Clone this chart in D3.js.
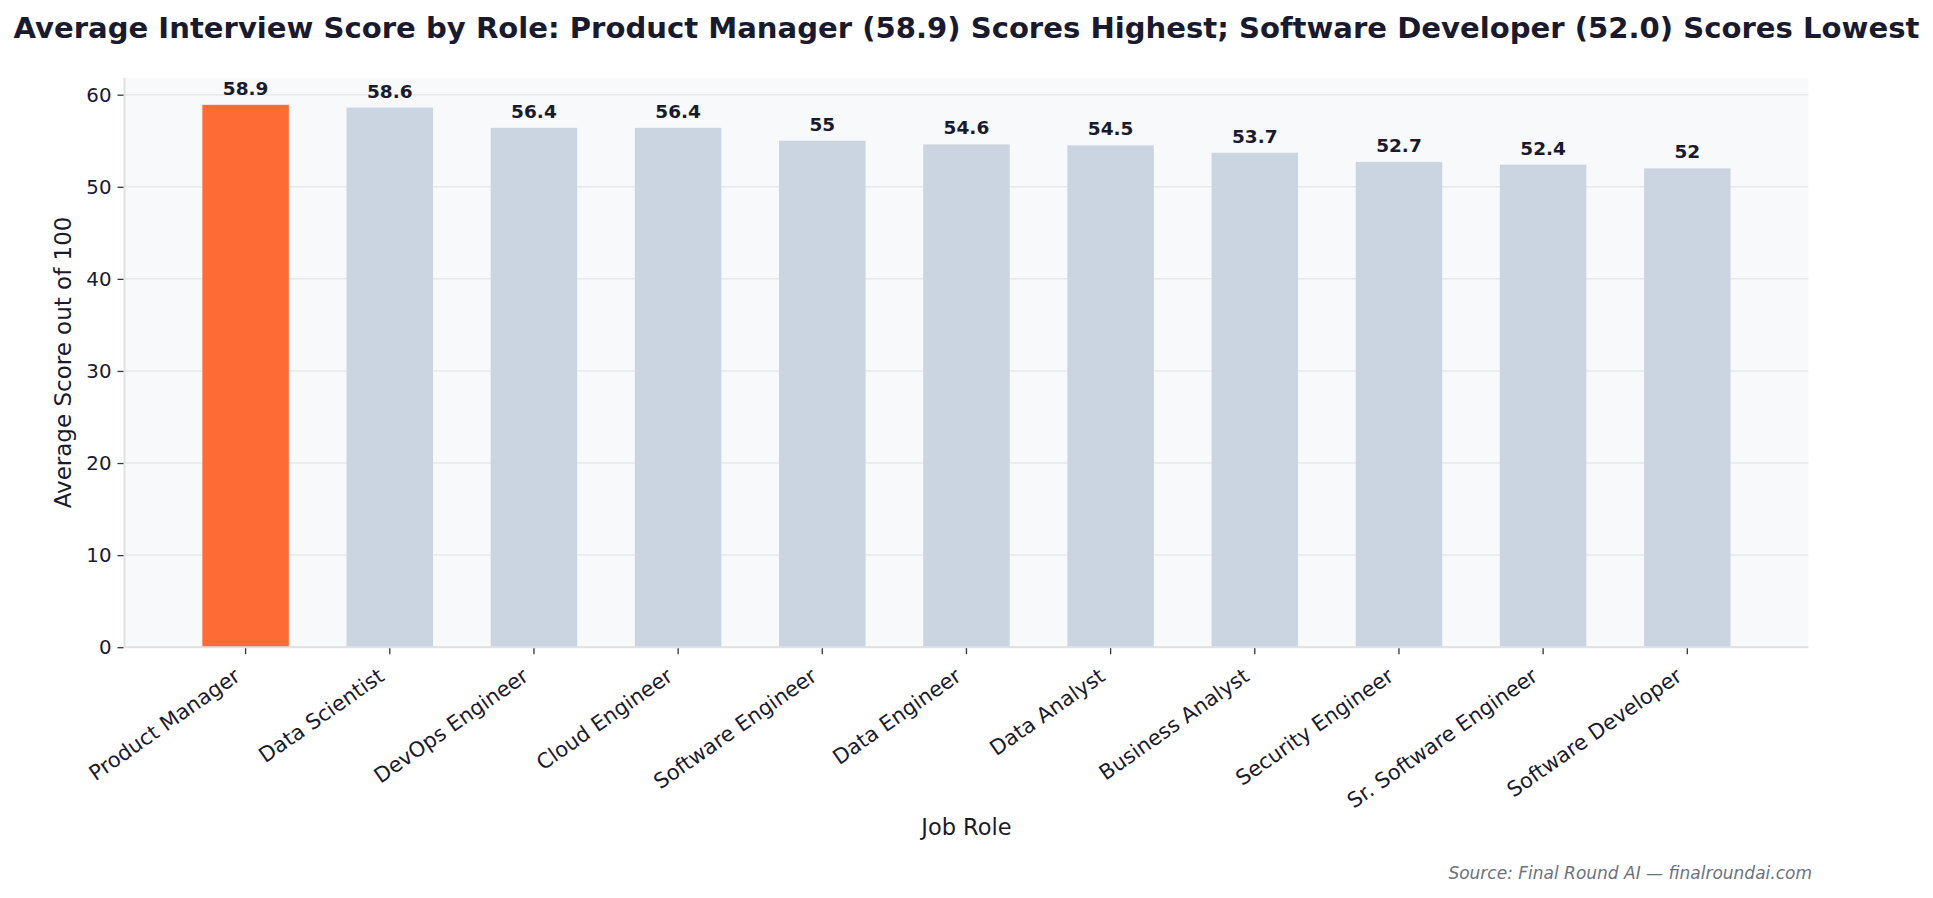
<!DOCTYPE html>
<html>
<head>
<meta charset="utf-8">
<script src="https://cdn.jsdelivr.net/npm/d3@7"></script>
<style>
  html, body { margin: 0; padding: 0; background: #ffffff; }
  svg { display: block; font-family: "DejaVu Sans", sans-serif; }
</style>
</head>
<body>
<svg id="chart" width="1933" height="898"></svg>
<script>
const roles = ["Product Manager", "Data Scientist", "DevOps Engineer", "Cloud Engineer", "Software Engineer", "Data Engineer", "Data Analyst", "Business Analyst", "Security Engineer", "Sr. Software Engineer", "Software Developer"];
const scores = [58.9, 58.6, 56.4, 56.4, 55, 54.6, 54.5, 53.7, 52.7, 52.4, 52];
const yTicks = [0, 10, 20, 30, 40, 50, 60];
const highlightRole = "Product Manager";
const titleText = "Average Interview Score by Role: Product Manager (58.9) Scores Highest; Software Developer (52.0) Scores Lowest";
const yLabelText = "Average Score out of 100";
const xLabelText = "Job Role";
const sourceText = "Source: Final Round AI \u2014 finalroundai.com";

const W = 1933, H = 898;
const m = { left: 124.5, right: 1808.4, top: 77.7, bottom: 647.2 };
const ink = "#1a1a2e";

const svg = d3.select("#chart");

const x = d3.scaleBand().domain(roles).range([m.left, m.right]).paddingInner(0.4).paddingOuter(0.54);
const y = d3.scaleLinear().domain([0, d3.max(scores) * 1.05]).range([m.bottom, m.top]);

// plot background
svg.append("rect").attr("x", m.left).attr("y", m.top)
  .attr("width", m.right - m.left).attr("height", m.bottom - m.top)
  .attr("fill", "#f8f9fb");

// grid
svg.append("g").selectAll("line").data(yTicks).join("line")
  .attr("x1", m.left).attr("x2", m.right)
  .attr("y1", d => y(d)).attr("y2", d => y(d))
  .attr("stroke", "#e6e8ed").attr("stroke-width", 1.5);

// bars
const data = roles.map((r, i) => ({ role: r, score: scores[i] }));
svg.append("g").selectAll("rect").data(data).join("rect")
  .attr("x", d => x(d.role)).attr("width", x.bandwidth())
  .attr("y", d => y(d.score)).attr("height", d => y(0) - y(d.score))
  .attr("fill", d => d.role === highlightRole ? "#ff6b35" : "#cbd5e1");

// value labels
svg.append("g").selectAll("text").data(data).join("text")
  .attr("x", d => x(d.role) + x.bandwidth() / 2)
  .attr("y", d => y(d.score) - 10)
  .attr("text-anchor", "middle")
  .attr("font-size", 18.5)
  .attr("font-weight", "bold")
  .attr("fill", ink)
  .text(d => String(d.score));

// spines
svg.append("line").attr("x1", m.left).attr("x2", m.left).attr("y1", m.top).attr("y2", m.bottom)
  .attr("stroke", "#dfe1e6").attr("stroke-width", 2);
svg.append("line").attr("x1", m.left).attr("x2", m.right).attr("y1", m.bottom).attr("y2", m.bottom)
  .attr("stroke", "#dfe1e6").attr("stroke-width", 2);

// y axis
const yAxis = d3.axisLeft(y).tickValues(yTicks).tickSize(6).tickPadding(6).tickFormat(d3.format("d"));
const gy = svg.append("g").attr("transform", `translate(${m.left - 1},0)`).call(yAxis);
gy.select(".domain").remove();
gy.selectAll(".tick line").attr("stroke", "#333344").attr("stroke-width", 1.3);
gy.selectAll(".tick text").attr("font-size", 19.8).attr("fill", ink).attr("font-family", "DejaVu Sans");

// x axis
const xAxis = d3.axisBottom(x).tickSize(6).tickPadding(4);
const gx = svg.append("g").attr("transform", `translate(0,${m.bottom + 1})`).call(xAxis);
gx.select(".domain").remove();
gx.selectAll(".tick line").attr("stroke", "#333344").attr("stroke-width", 1.3);
gx.selectAll(".tick text")
  .attr("font-size", 21).attr("fill", ink).attr("font-family", "DejaVu Sans")
  .attr("text-anchor", "end")
  .attr("dy", null)
  .attr("y", null)
  .attr("transform", "translate(-4,31) rotate(-35)");

// axis labels
svg.append("text").attr("transform", `translate(71,${(m.top + m.bottom) / 2}) rotate(-90)`)
  .attr("text-anchor", "middle").attr("font-size", 23).attr("fill", ink).text(yLabelText);
svg.append("text").attr("x", (m.left + m.right) / 2).attr("y", 835)
  .attr("text-anchor", "middle").attr("font-size", 22.5).attr("fill", ink).text(xLabelText);

// title
svg.append("text").attr("x", (m.left + m.right) / 2).attr("y", 38)
  .attr("text-anchor", "middle").attr("font-size", 29.1).attr("font-weight", "bold")
  .attr("fill", ink).text(titleText);

// source
svg.append("text").attr("x", 1812).attr("y", 879)
  .attr("text-anchor", "end").attr("font-size", 17).attr("font-style", "italic")
  .attr("fill", "#6b7280").text(sourceText);
</script>
</body>
</html>
